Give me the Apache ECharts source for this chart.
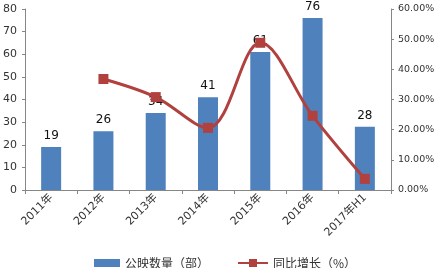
<!DOCTYPE html>
<html><head><meta charset="utf-8">
<script src="https://cdn.jsdelivr.net/npm/echarts@6/dist/echarts.min.js"></script>
<style>html,body{margin:0;padding:0;background:#fff}#c{width:442px;height:268px}</style>
</head><body><div id="c"></div>
<script>
var categories = ['2011年','2012年','2013年','2014年','2015年','2016年','2017年H1'];
var releases = [19, 26, 34, 41, 61, 76, 28];
var growth = [null, 36.8, 30.8, 20.6, 48.8, 24.6, 3.7];
var leftTicks = {min: 0, max: 80, interval: 10};
var rightTicks = {min: 0, max: 60, interval: 10};
var barName = '公映数量（部）';
var lineName = '同比增长（%）';

var axisColor = '#868686';
var textColor = '#333';
var numFont = 'DejaVu Sans';
var cjkFont = 'Noto Sans CJK SC';

var chart = echarts.init(document.getElementById('c'), null, {renderer: 'canvas'});
chart.setOption({
  animation: false,
  backgroundColor: '#fff',
  grid: {left: 25, right: 51, top: 9, bottom: 78, containLabel: false},
  legend: [{
    data: [barName], left: 89, top: 252, itemWidth: 26, itemHeight: 8, itemGap: 4,
    icon: 'rect',
    textStyle: {fontFamily: cjkFont, fontSize: 12, color: textColor}
  }, {
    data: [lineName], left: 232, top: 252, itemWidth: 30, itemHeight: 10,
    textStyle: {fontFamily: cjkFont, fontSize: 12, color: textColor}
  }],
  xAxis: {
    type: 'category', data: categories, boundaryGap: true,
    axisLine: {lineStyle: {color: axisColor}},
    axisTick: {show: true, length: 4, lineStyle: {color: axisColor}},
    axisLabel: {rotate: 45, fontFamily: [numFont, cjkFont].join(','), fontSize: 11, color: textColor, margin: 6, interval: 0}
  },
  yAxis: [{
    type: 'value', min: leftTicks.min, max: leftTicks.max, interval: leftTicks.interval,
    axisLine: {show: true, lineStyle: {color: axisColor}},
    axisTick: {show: true, length: 3, lineStyle: {color: axisColor}},
    splitLine: {show: false},
    axisLabel: {fontFamily: numFont, fontSize: 11, color: textColor, margin: 8}
  }, {
    type: 'value', min: rightTicks.min, max: rightTicks.max, interval: rightTicks.interval,
    position: 'right',
    axisLine: {show: true, lineStyle: {color: axisColor}},
    axisTick: {show: true, length: 3, lineStyle: {color: axisColor}},
    splitLine: {show: false},
    axisLabel: {fontFamily: numFont, fontSize: 9.5, color: textColor, margin: 7,
      formatter: function (v) { return v.toFixed(2) + '%'; }}
  }],
  series: [{
    name: barName, type: 'bar', data: releases, yAxisIndex: 0,
    barWidth: 20,
    itemStyle: {color: '#4F81BD'},
    label: {show: true, position: 'top', distance: 5, fontFamily: numFont, fontSize: 12, color: '#111'}
  }, {
    name: lineName, type: 'line', data: growth, yAxisIndex: 1,
    smooth: 0.35, connectNulls: false,
    symbol: 'rect', symbolSize: 10,
    lineStyle: {color: '#B0413E', width: 3},
    itemStyle: {color: '#B0413E'}
  }]
});
</script></body></html>
